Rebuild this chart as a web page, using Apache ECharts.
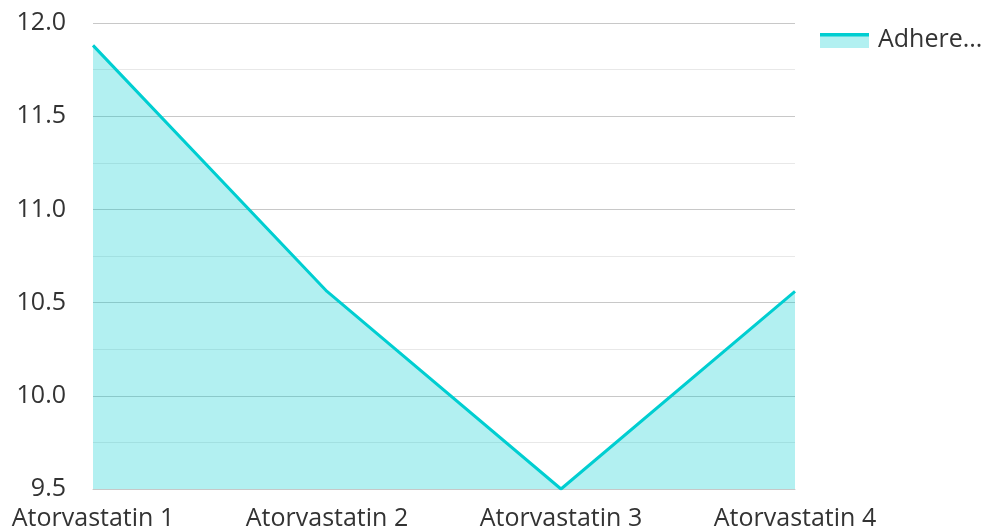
<!DOCTYPE html>
<html>
<head>
<meta charset="utf-8">
<script src="https://cdn.jsdelivr.net/npm/echarts@6/dist/echarts.min.js"></script>
<style>
html,body{margin:0;padding:0;background:#fff;}
#chart{width:984px;height:531px;}
</style>
</head>
<body>
<div id="chart"></div>
<script>
const categories = ['Atorvastatin 1', 'Atorvastatin 2', 'Atorvastatin 3', 'Atorvastatin 4'];
const seriesName = 'Adherence';
const values = [11.88, 10.56, 9.5, 10.56];
const yMin = 9.5, yMax = 12.0, yInterval = 0.5;

const chart = echarts.init(document.getElementById('chart'));
const font = '"Open Sans", "Noto Sans", sans-serif';
chart.setOption({
  animation: false,
  textStyle: { fontFamily: font },
  grid: { left: 93, right: 189, top: 23, bottom: 41, containLabel: false },
  legend: {
    left: 868, top: 22,
    itemWidth: 0, itemHeight: 14,
    icon: 'rect',
    itemStyle: { color: 'rgba(0,0,0,0)', borderWidth: 0 },
    textStyle: { fontSize: 25, color: '#333', fontFamily: font, width: 108, overflow: 'truncate', ellipsis: '...' },
    data: [seriesName]
  },
  graphic: [
    { type: 'rect', shape: { x: 820, y: 36, width: 49, height: 12 }, style: { fill: 'rgba(0,206,209,0.3)' } },
    { type: 'rect', shape: { x: 820, y: 33, width: 49, height: 3.5 }, style: { fill: '#00ced1' } }
  ],
  xAxis: {
    type: 'category',
    data: categories,
    boundaryGap: false,
    axisLine: { show: true, lineStyle: { color: '#c8c8c8', width: 1 } },
    axisTick: { show: false },
    axisLabel: { fontSize: 25, color: '#333', margin: 17, fontFamily: font }
  },
  yAxis: {
    type: 'value',
    min: yMin, max: yMax, interval: yInterval,
    axisLine: { show: false },
    axisTick: { show: false },
    axisLabel: { fontSize: 25, color: '#333', margin: 27, fontFamily: font, formatter: v => v.toFixed(1) },
    splitLine: { show: true, lineStyle: { color: '#c8c8c8', width: 1 } },
    minorTick: { show: false, splitNumber: 2 },
    minorSplitLine: { show: true, lineStyle: { color: '#e8e8e8', width: 1 } }
  },
  series: [{
    name: seriesName,
    type: 'line',
    data: values,
    symbol: 'none',
    lineStyle: { color: '#00ced1', width: 3 },
    itemStyle: { color: '#00ced1' },
    areaStyle: { color: 'rgba(0,206,209,0.3)', opacity: 1, origin: 'start' }
  }]
});
</script>
</body>
</html>
